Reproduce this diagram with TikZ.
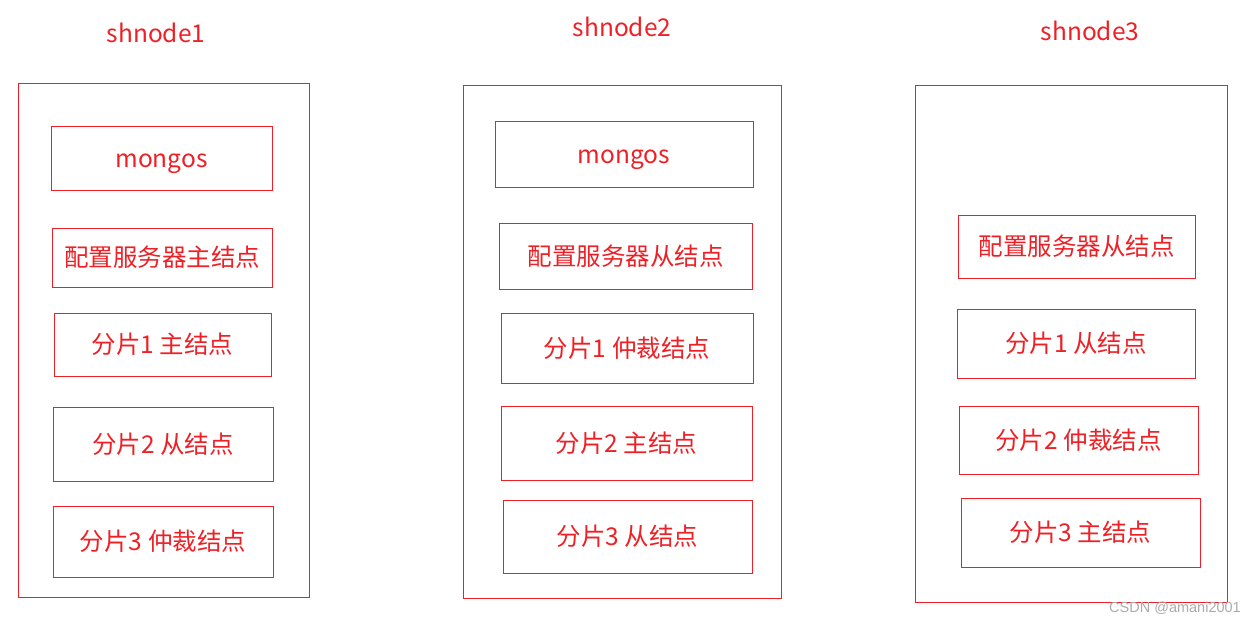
\documentclass[tikz,border=0pt]{standalone}
\usepackage{fontspec}
\setmainfont{Noto Sans CJK SC}
\newfontfamily\wmfont{Liberation Sans}
\definecolor{shred}{RGB}{238,32,38}
\tikzset{
    host/.style={draw=shred, line width=0.9pt, inner sep=0pt},
    cell/.style={draw=shred, line width=0.9pt, text=shred, inner sep=0pt,
        text height=18.6pt, text depth=0pt,
        font=\fontsize{24.5}{28}\selectfont},
    title/.style={text=shred, font=\fontsize{24.5}{28}\selectfont}
}
\begin{document}
\begin{tikzpicture}[x=1pt, y=-1pt]
    \useasboundingbox (0,0) rectangle (1255,624);

    % Titles
    \node[title] (t1) at (156,33) {shnode1};
    \node[title] (t2) at (622,27) {shnode2};
    \node[title] (t3) at (1090,31) {shnode3};

    % Hosts
    \node[host, minimum width=291pt, minimum height=514pt] (h1) at (163.5,340) {};
    \node[host, minimum width=318pt, minimum height=513pt] (h2) at (622,341.5) {};
    \node[host, minimum width=312pt, minimum height=517pt] (h3) at (1071,343.5) {};

    % shnode1
    \node[cell, minimum width=221pt, minimum height=64pt] (mongos1) at (161.5,158) {mongos};
    \node[cell, minimum width=220pt, minimum height=59pt] (cfg1) at (162,257.5) {配置服务器主结点};
    \node[cell, minimum width=217pt, minimum height=63pt] (s1a) at (162.5,344.5) {分片1 主结点};
    \node[cell, minimum width=220pt, minimum height=74pt] (s1b) at (163,444) {分片2 从结点};
    \node[cell, minimum width=220pt, minimum height=71pt] (s1c) at (163,541.5) {分片3 仲裁结点};

    % shnode2
    \node[cell, minimum width=258pt, minimum height=66pt] (mongos2) at (624,154) {mongos};
    \node[cell, minimum width=253pt, minimum height=66pt] (cfg2) at (625.5,256) {配置服务器从结点};
    \node[cell, minimum width=252pt, minimum height=70pt] (s2a) at (627,348) {分片1 仲裁结点};
    \node[cell, minimum width=251pt, minimum height=74pt] (s2b) at (626.5,443) {分片2 主结点};
    \node[cell, minimum width=249pt, minimum height=73pt] (s2c) at (627.5,536.5) {分片3 从结点};

    % shnode3
    \node[cell, minimum width=237pt, minimum height=63pt] (cfg3) at (1076.5,246.5) {配置服务器从结点};
    \node[cell, minimum width=238pt, minimum height=69pt] (s3a) at (1076,343.5) {分片1 从结点};
    \node[cell, minimum width=239pt, minimum height=68pt] (s3b) at (1078.5,440) {分片2 仲裁结点};
    \node[cell, minimum width=239pt, minimum height=69pt] (s3c) at (1080.5,532.5) {分片3 主结点};

    % Watermark
    \node[text=black!33, font=\wmfont\fontsize{14.5}{16}\selectfont] (wm) at (1175,608) {CSDN @amani2001};
\end{tikzpicture}
\end{document}
